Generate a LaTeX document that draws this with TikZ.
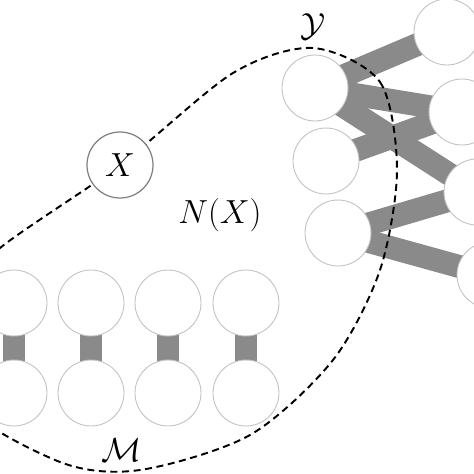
\RequirePackage{fix-cm}
\documentclass[tikz,border=0pt]{standalone}
\usepackage{amsmath}
\usetikzlibrary{positioning}
\pgfdeclarelayer{background}
\pgfsetlayers{background,main}
\definecolor{bandgray}{gray}{0.54}
\definecolor{ringgray}{gray}{0.76}

\begin{document}
\begin{tikzpicture}[x=0.02cm, y=-0.02cm,
    every node/.style={font=\fontsize{19}{23}\selectfont},
    ball/.style={circle, draw=ringgray, line width=0.5pt, fill=white, minimum size=1.32cm, inner sep=0pt},
    vball/.style={circle, draw=gray, line width=0.7pt, fill=white, minimum size=1.32cm, inner sep=0pt},
    band/.style={draw=bandgray, line width=0.46cm},
    blob/.style={dash pattern=on 4pt off 2.6pt, line width=1.1pt}]
    % frame
    \useasboundingbox (0,0) rectangle (474,474);

    % matching M
    \foreach \i/\x in {1/14,2/91,3/168,4/246} {
        \node (top\i) [ball] at (\x,303) {};
        \node (bot\i) [ball] at (\x,393) {};
    }

    % Y side
    \node (y1) [ball] at (315,88) {};
    \node (y2) [ball] at (326,161) {};
    \node (y3) [ball] at (338,233) {};
    \node (z1) [ball] at (447,32) {};
    \node (z2) [ball] at (462,112) {};
    \node (z3) [ball] at (477,192) {};
    \node (z4) [ball] at (490,275) {};

    % X and labels
    \node (x) [vball] at (120,165) {$X$};
    \node (nx) at (220,215) {$N(X)$};
    \node (ylab) at (313,27) {$\mathcal{Y}$};
    \node (mlab) at (122,450) {$\mathcal{M}$};

    \begin{pgfonlayer}{background}
        % edges
        \foreach \i in {1,...,4}
            \draw[band] (top\i.center) -- (bot\i.center);
        \draw[band] (y1.center) -- (z1.center);
        \draw[band] (y1.center) -- (z2.center);
        \draw[band] (y1.center) -- (z3.center);
        \draw[band] (y2.center) -- (z2.center);
        \draw[band] (y3.center) -- (z3.center);
        \draw[band] (y3.center) -- (z4.center);

        % neighbourhood
        \draw[blob] plot[smooth cycle] coordinates {(313,48) (380,82) (397,170) (380,270) (333,360) (250,435) (140,470) (60,462) (-40,400) (-45,300) (0,248) (120,165) (233,73)};
    \end{pgfonlayer}
\end{tikzpicture}
\end{document}
